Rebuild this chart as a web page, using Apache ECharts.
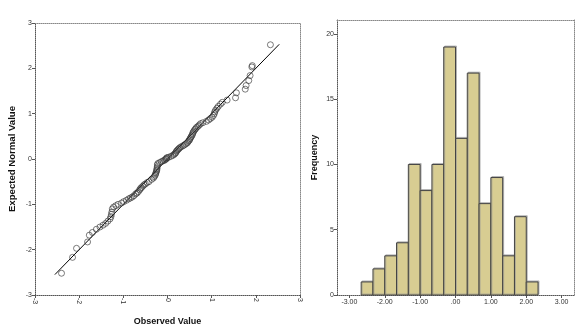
<!DOCTYPE html>
<html>
<head>
<meta charset="utf-8">
<script src="https://cdn.jsdelivr.net/npm/echarts@6/dist/echarts.min.js"></script>
<style>
html,body{margin:0;padding:0;background:#fff;}
#c{width:576px;height:334px;}
</style>
</head>
<body>
<div id="c"></div>
<script>
// Q-Q plot: [observed, expected normal]
var qqPoints = [
  [-2.40,-2.52],
  [-2.15,-2.17],[-2.06,-1.97],
  [-1.81,-1.83],[-1.77,-1.68],[-1.70,-1.62],
  [-1.61,-1.55],[-1.53,-1.50],[-1.46,-1.46],[-1.40,-1.42],
  [-1.35,-1.37],[-1.30,-1.32],[-1.28,-1.27],[-1.27,-1.22],[-1.26,-1.17],[-1.25,-1.10],[-1.22,-1.06],[-1.17,-1.03],[-1.12,-1.00],[-1.04,-0.97],
  [-0.99,-0.94],[-0.93,-0.91],[-0.88,-0.88],[-0.84,-0.86],[-0.80,-0.84],[-0.76,-0.81],[-0.72,-0.77],[-0.69,-0.75],
  [-0.66,-0.72],[-0.63,-0.68],[-0.61,-0.65],[-0.59,-0.63],[-0.56,-0.60],[-0.53,-0.57],[-0.50,-0.55],[-0.46,-0.52],[-0.42,-0.50],[-0.36,-0.45],
  [-0.32,-0.42],[-0.30,-0.39],[-0.28,-0.36],[-0.27,-0.33],[-0.26,-0.30],[-0.25,-0.27],[-0.24,-0.24],[-0.24,-0.21],[-0.23,-0.17],[-0.23,-0.13],
  [-0.22,-0.10],[-0.18,-0.08],[-0.14,-0.06],[-0.10,-0.04],[-0.07,-0.03],[-0.05,-0.01],[-0.03,0.00],[-0.02,0.02],[-0.01,0.03],
  [0.03,0.04],[0.08,0.06],[0.12,0.08],[0.15,0.10],[0.17,0.12],[0.19,0.14],[0.20,0.17],[0.22,0.19],[0.24,0.21],[0.26,0.23],[0.28,0.25],[0.31,0.27],
  [0.35,0.29],[0.38,0.31],[0.41,0.33],[0.44,0.35],[0.46,0.37],[0.48,0.40],[0.50,0.42],[0.51,0.45],[0.53,0.48],[0.54,0.50],[0.56,0.53],[0.57,0.56],
  [0.58,0.59],[0.60,0.62],[0.62,0.65],[0.64,0.67],[0.66,0.70],
  [0.69,0.72],[0.72,0.75],[0.75,0.78],[0.80,0.80],[0.88,0.83],[0.93,0.86],[0.97,0.89],
  [1.01,0.92],[1.04,0.96],[1.06,1.00],[1.07,1.04],[1.09,1.08],[1.12,1.12],[1.15,1.16],[1.20,1.21],[1.24,1.25],
  [1.35,1.30],[1.54,1.35],[1.56,1.46],
  [1.76,1.54],[1.78,1.62],[1.84,1.73],[1.87,1.84],[1.91,2.03],[1.92,2.06],
  [2.33,2.52]
];
var refLineEnds = [-2.55, 2.53];
var qqTicks = [-3,-2,-1,0,1,2,3];

// Histogram
var binEdges = [-8/3,-7/3,-2,-5/3,-4/3,-1,-2/3,-1/3,0,1/3,2/3,1,4/3,5/3,2,7/3];
var binCounts = [1,2,3,4,10,8,10,19,12,17,7,9,3,6,1];
var histXTicks = [-3,-2,-1,0,1,2,3];
var histYTicks = [0,5,10,15,20];

var histData = binCounts.map(function(c,i){ return [binEdges[i], binEdges[i+1], c]; });

var tickFont = {fontFamily:'Liberation Sans Narrow, Liberation Sans, Arial, sans-serif', fontSize:7, color:'#333'};
var nameFont = {fontFamily:'Liberation Sans, Arial, sans-serif', fontWeight:'bold', fontSize:9, color:'#111'};
function edgeLine(){ return {show:true, onZero:false, lineStyle:{color:'#888', type:'dotted', width:1}}; }
function mainLine(){ return {show:true, onZero:false, lineStyle:{color:'#555', type:'dotted', width:1}}; }

var chart = echarts.init(document.getElementById('c'), null, {renderer:'canvas'});
chart.setOption({
  animation:false,
  backgroundColor:'#fff',
  grid:[
    {left:35, top:23, width:265, height:272},
    {left:337, top:20, width:237, height:275}
  ],
  xAxis:[
    {gridIndex:0, type:'value', min:-3, max:3, interval:1, position:'bottom',
     name:'Observed Value', nameLocation:'middle', nameGap:22, nameTextStyle:Object.assign({}, nameFont),
     axisLine:mainLine(),
     axisTick:{show:true, length:3, lineStyle:{color:'#555'}},
     axisLabel:Object.assign({rotate:-90, margin:3}, tickFont),
     splitLine:{show:false}},
    {gridIndex:0, type:'value', min:-3, max:3, position:'top',
     axisLine:edgeLine(), axisTick:{show:false}, axisLabel:{show:false}, splitLine:{show:false}},
    {gridIndex:1, type:'value', min:-3.35, max:3.35, position:'bottom',
     axisLine:mainLine(),
     axisTick:{show:true, length:3, customValues:histXTicks, lineStyle:{color:'#555'}},
     axisLabel:Object.assign({customValues:histXTicks, margin:4, formatter:function(v){ return v===0 ? '.00' : v.toFixed(2); }}, tickFont),
     splitLine:{show:false}},
    {gridIndex:1, type:'value', min:-3.35, max:3.35, position:'top',
     axisLine:edgeLine(), axisTick:{show:false}, axisLabel:{show:false}, splitLine:{show:false}}
  ],
  yAxis:[
    {gridIndex:0, type:'value', min:-3, max:3, interval:1, position:'left',
     name:'Expected Normal Value', nameLocation:'middle', nameGap:18, nameTextStyle:Object.assign({}, nameFont, {fontSize:9.6}),
     axisLine:mainLine(),
     axisTick:{show:true, length:3, lineStyle:{color:'#555'}},
     axisLabel:Object.assign({margin:3}, tickFont),
     splitLine:{show:false}},
    {gridIndex:0, type:'value', min:-3, max:3, position:'right',
     axisLine:edgeLine(), axisTick:{show:false}, axisLabel:{show:false}, splitLine:{show:false}},
    {gridIndex:1, type:'value', min:0, max:21.07, position:'left',
     name:'Frequency', nameLocation:'middle', nameGap:18, nameTextStyle:Object.assign({}, nameFont),
     axisLine:mainLine(),
     axisTick:{show:true, length:3, customValues:histYTicks, lineStyle:{color:'#555'}},
     axisLabel:Object.assign({customValues:histYTicks, margin:3}, tickFont),
     splitLine:{show:false}},
    {gridIndex:1, type:'value', min:0, max:21.07, position:'right',
     axisLine:edgeLine(), axisTick:{show:false}, axisLabel:{show:false}, splitLine:{show:false}}
  ],
  series:[
    {type:'line', xAxisIndex:0, yAxisIndex:0, symbol:'none',
     data:[[refLineEnds[0],refLineEnds[0]],[refLineEnds[1],refLineEnds[1]]],
     lineStyle:{color:'#000', width:1}, silent:true, z:2},
    {type:'scatter', xAxisIndex:0, yAxisIndex:0, data:qqPoints, symbol:'circle', symbolSize:6,
     itemStyle:{color:'rgba(255,255,255,0)', borderColor:'#333', borderWidth:0.8}, z:3},
    {type:'custom', xAxisIndex:2, yAxisIndex:2, data:histData,
     renderItem:function(params, api){
       var p0 = api.coord([api.value(0), api.value(2)]);
       var p1 = api.coord([api.value(1), 0]);
       return {type:'rect',
         shape:{x:p0[0], y:p0[1], width:p1[0]-p0[0], height:p1[1]-p0[1]},
         style:{fill:'#d8cd92', stroke:'#444', lineWidth:1,
                shadowColor:'rgba(150,150,150,0.6)', shadowOffsetX:1, shadowOffsetY:-1, shadowBlur:0}};
     }}
  ]
});
</script>
</body>
</html>
